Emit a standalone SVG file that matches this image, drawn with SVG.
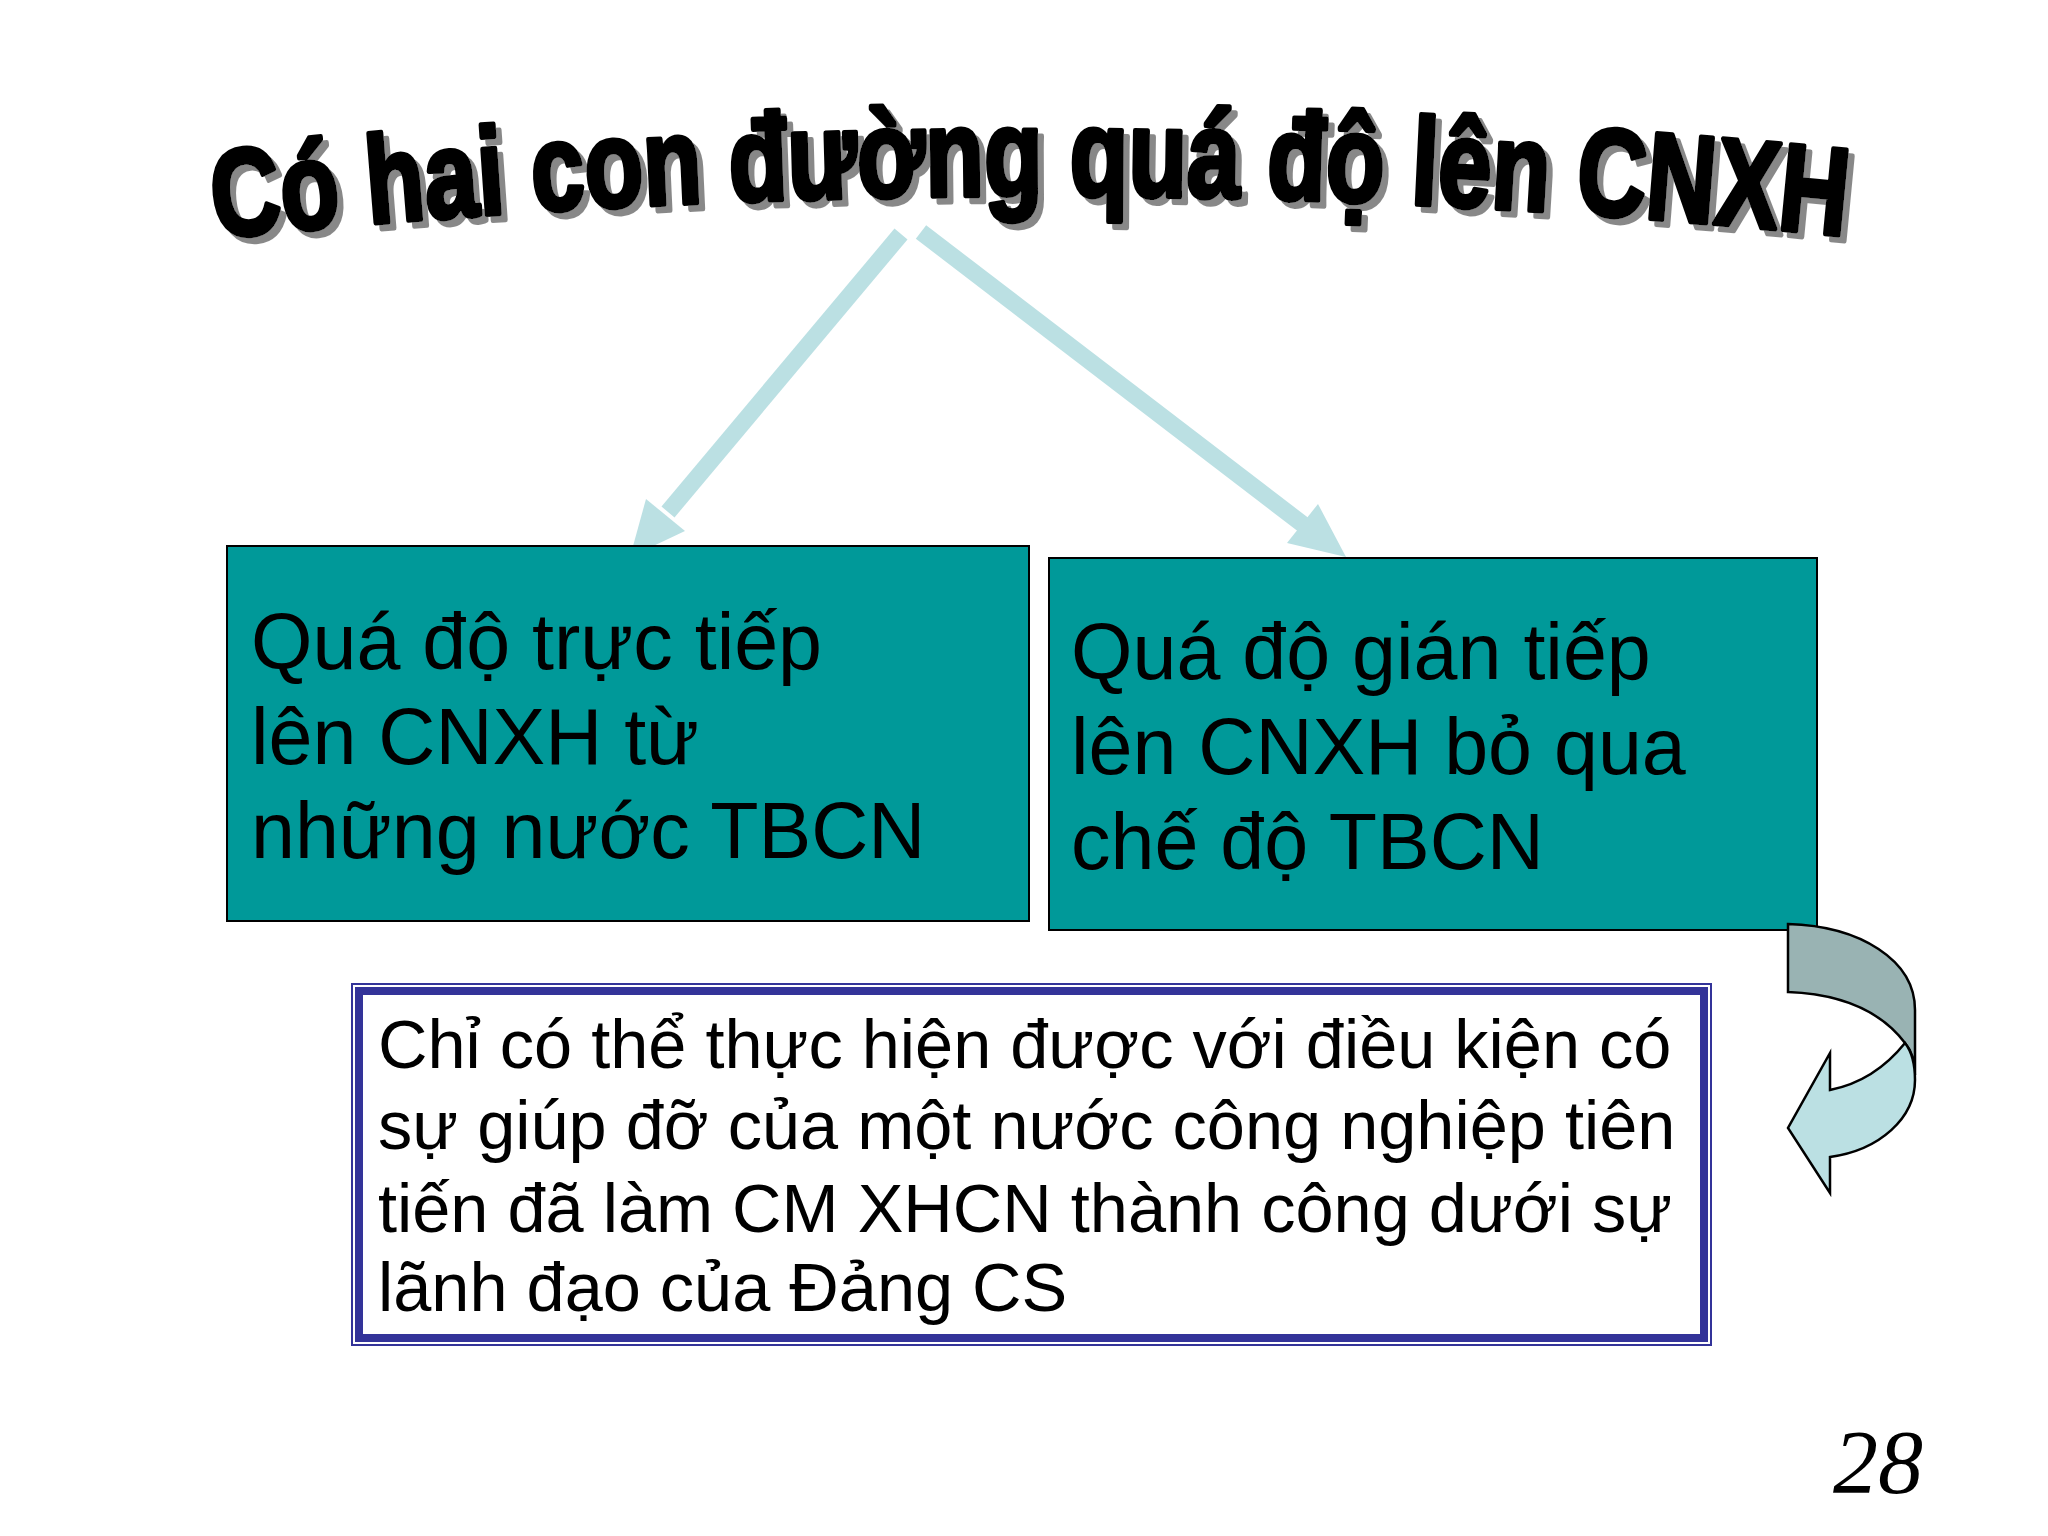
<svg xmlns="http://www.w3.org/2000/svg" xmlns:xlink="http://www.w3.org/1999/xlink" width="2048" height="1536" viewBox="0 0 2048 1536">
<style>
.title{font-family:"Liberation Sans",Arial,sans-serif;font-weight:bold;font-size:124px;stroke-linejoin:round}
.box{fill:#009999;stroke:#000;stroke-width:2}
.bt{font-family:"Liberation Sans",Arial,sans-serif;font-size:79px;fill:#000}
.nt{font-family:"Liberation Sans",Arial,sans-serif;font-size:68.5px;fill:#000}
.shaft{stroke:#BBE0E3;stroke-width:17;fill:none}
.head{fill:#BBE0E3}
</style>
<defs>
<path id="arc" d="M215,238 Q1031,154 1848,236"/>
<filter id="shadow" x="-5%" y="-20%" width="110%" height="150%">
<feOffset in="SourceAlpha" dx="6" dy="6" result="off"/>
<feFlood flood-color="#888"/>
<feComposite in2="off" operator="in" result="sh"/>
<feMerge><feMergeNode in="sh"/><feMergeNode in="SourceGraphic"/></feMerge>
</filter>
</defs>
<rect width="2048" height="1536" fill="#fff"/>
<g id="title" filter="url(#shadow)">
<text class="title" fill="#000" stroke="#000" stroke-width="5"><textPath xlink:href="#arc" href="#arc" textLength="1633" lengthAdjust="spacingAndGlyphs">Có hai con đường quá độ lên CNXH</textPath></text>
</g>
<g id="connectors">
<line class="shaft" x1="901" y1="234" x2="668" y2="512"/>
<polygon class="head" points="630,557 646,499 685,531"/>
<line class="shaft" x1="921" y1="232" x2="1305" y2="526"/>
<polygon class="head" points="1346,557 1287,543 1318,504"/>
</g>
<g id="box1">
<rect class="box" x="227" y="546" width="802" height="375"/>
<text class="bt" x="251" y="669">Quá độ trực tiếp</text>
<text class="bt" x="251" y="764">lên CNXH từ</text>
<text class="bt" x="251" y="858">những nước TBCN</text>
</g>
<g id="box2">
<rect class="box" x="1049" y="558" width="768" height="372"/>
<text class="bt" x="1071" y="679">Quá độ gián tiếp</text>
<text class="bt" x="1071" y="774">lên CNXH bỏ qua</text>
<text class="bt" x="1071" y="869">chế độ TBCN</text>
</g>
<g id="curved-arrow" stroke="#000" stroke-width="2.5" stroke-linejoin="miter">
<path fill="#99B3B3" d="M1788,924 C1860,926 1915,960 1915,1010 L1915,1075 C1915,1062 1912,1051 1905,1043 C1880,1010 1840,994 1788,992 Z"/>
<path fill="#BBE0E3" d="M1905,1043 C1885,1068 1860,1084 1830,1090 L1830,1053 L1788,1128 L1830,1193 L1830,1157 C1880,1150 1915,1118 1915,1080 C1915,1065 1912,1052 1905,1043 Z"/>
</g>
<g id="note">
<rect x="352" y="984" width="1359" height="361" fill="#fff" stroke="#333399" stroke-width="2"/>
<rect x="359" y="991" width="1345" height="347" fill="none" stroke="#333399" stroke-width="8"/>
<text class="nt" x="378" y="1068">Chỉ có thể thực hiện được với điều kiện có</text>
<text class="nt" x="378" y="1149">sự giúp đỡ của một nước công nghiệp tiên</text>
<text class="nt" x="378" y="1232">tiến đã làm CM XHCN thành công dưới sự</text>
<text class="nt" x="378" y="1311">lãnh đạo của Đảng CS</text>
</g>
<text x="1833" y="1493" font-family="'Liberation Serif','Times New Roman',serif" font-style="italic" font-size="90">28</text>
</svg>
